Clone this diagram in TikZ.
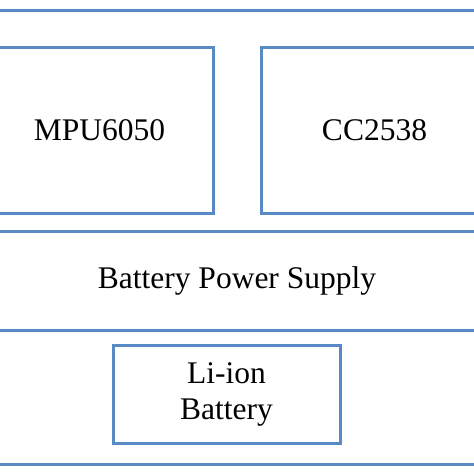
\documentclass[tikz,border=0pt]{standalone}
\usepackage{fontspec}
\setmainfont{Liberation Serif}
\usetikzlibrary{positioning}
\definecolor{boxblue}{RGB}{88,138,198}

\begin{document}
\begin{tikzpicture}[
    x=1pt, y=-1pt,
    node distance=48pt,
    block/.style={rectangle, draw=boxblue, line width=3pt, inner sep=0pt, outer sep=0pt, align=center, font=\fontsize{31.5}{36}\selectfont},
    chip/.style={block, minimum width=227pt, minimum height=166pt}
]
    \useasboundingbox (0,0) rectangle (474,474);
    \node[block, minimum width=520pt, minimum height=454pt] (frame) at (237,237) {};
    \node[chip] (mpu) at (99.5,130) {MPU6050};
    \node[chip, right=of mpu] (cc) {CC2538};
    \node[block, minimum width=520pt, minimum height=99pt] (supply) at (237,280.5) {Battery Power Supply};
    \node[block, minimum width=227pt, minimum height=98pt] (liion) at (226.5,394) {Li-ion\\Battery};
\end{tikzpicture}
\end{document}
